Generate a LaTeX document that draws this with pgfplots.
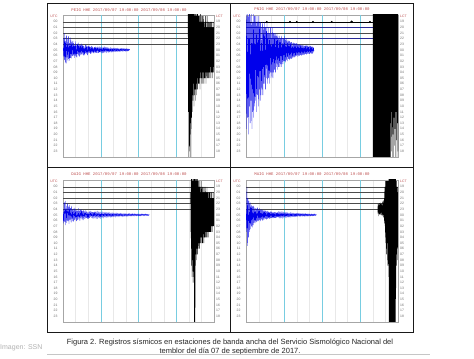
\documentclass[border=0pt]{standalone}
\usepackage{pgfplots}
\pgfplotsset{compat=1.18}
\usepackage{fontspec}
\setmainfont{Liberation Sans}
\newfontfamily\monof{Liberation Mono}
\definecolor{ttl}{RGB}{190,80,80}
\definecolor{cy}{RGB}{120,205,225}
\definecolor{lab}{RGB}{110,110,110}
\definecolor{trb}{RGB}{0,0,235}
\definecolor{nav}{RGB}{40,40,150}
\pgfplotsset{
  heli/.style={
    scale only axis, width=151pt, height=142pt,
    xmin=0, xmax=60, ymin=-0.2, ymax=25, y dir=reverse,
    axis line style={gray!70, line width=0.4pt},
    xtick={5,10,20,25,35,40,50,55}, xticklabels={}, xmajorgrids,
    major grid style={gray!18, line width=0.3pt},
    extra x ticks={15,30,45}, extra x tick labels={},
    extra x tick style={grid=major, major grid style={cy, line width=0.5pt}},
    major tick length=0pt,
    ytick={0.1,1,2,3,4,5,6,7,8,9,10,11,12,13,14,15,16,17,18,19,20,21,22,23,24},
    yticklabels={\textcolor{ttl}{UTC},00,01,02,03,04,05,06,07,08,09,10,11,12,13,14,15,16,17,18,19,20,21,22,23},
    yticklabel style={font=\fontsize{3.4}{4}\selectfont, text=lab, xshift=-2pt},
    clip=true,
  },
  rowl/.style={gray!60!black, line width=0.35pt},
  bt/.style={trb, line width=0.3pt},
  kt/.style={black, line width=0.3pt},
}
\newcommand\rightlabels[2]{%
  \node[anchor=west, font=\fontsize{3.4}{4}\selectfont, text=ttl, inner sep=0pt] at (#1+2, {#2-0.3*5.635}) {LCT};
  \foreach \r/\t in {1/19,2/20,3/21,4/22,5/23,6/00,7/01,8/02,9/03,10/04,11/05,12/06,13/07,14/08,15/09,16/10,17/11,18/12,19/13,20/14,21/15,22/16,23/17,24/18}
    \node[anchor=west, font=\fontsize{3.4}{4}\selectfont, text=lab, inner sep=0pt] at (#1+2, {#2-(\r+0.2)*5.635}) {\t};
}
\begin{document}
\begin{tikzpicture}
\begin{scope}[x=1pt,y=1pt]
\useasboundingbox (0,0) rectangle (474,355);
\fill[white] (0,0) rectangle (474,355);
\draw[line width=0.8pt, gray!20!black] (47,352) rectangle (413,23);
\draw[line width=0.8pt, gray!20!black] (230,352) -- (230,23);
\draw[line width=0.8pt, gray!20!black] (47,188) -- (413,188);
\end{scope}

% ---------------- PEIG (top left)
\begin{axis}[heli, at={(63pt,198pt)}, anchor=south west]
\addplot[rowl] coordinates {(0,1) (60,1)};
\addplot[rowl] coordinates {(0,2) (60,2)};
\addplot[rowl] coordinates {(0,3) (60,3)};
\addplot[rowl] coordinates {(0,4) (60,4)};
\addplot[rowl] coordinates {(0,5) (49.7,5)};
\addplot[bt] table[row sep=\\, x expr={\coordindex*0.178}, y expr={6+\thisrow{v}}] {v\\
-0.4\\ 1.2\\ -2.1\\ 1.8\\ -3.0\\ 2.2\\ -1.5\\ 2.4\\ -2.6\\ 1.3\\ -1.9\\ 2.0\\ -2.4\\ 1.6\\ -1.2\\ 1.9\\ -2.2\\ 1.4\\ -1.7\\ 1.5\\
-1.3\\ 1.1\\ -1.6\\ 0.9\\ -1.2\\ 1.4\\ -0.8\\ 1.0\\ -1.5\\ 1.2\\ -0.9\\ 1.3\\ -1.1\\ 0.7\\ -1.3\\ 1.0\\ -0.8\\ 1.2\\ -1.0\\ 0.9\\
-0.9\\ 0.8\\ -1.1\\ 0.6\\ -0.8\\ 0.9\\ -0.7\\ 1.0\\ -0.6\\ 0.8\\ -0.9\\ 0.5\\ -0.8\\ 0.7\\ -0.6\\ 0.9\\ -0.7\\ 0.6\\ -0.8\\ 0.5\\
-0.6\\ 0.7\\ -0.5\\ 0.6\\ -0.7\\ 0.4\\ -0.6\\ 0.5\\ -0.4\\ 0.6\\ -0.5\\ 0.4\\ -0.6\\ 0.5\\ -0.4\\ 0.5\\ -0.5\\ 0.3\\ -0.4\\ 0.5\\
-0.4\\ 0.45\\ -0.35\\ 0.4\\ -0.45\\ 0.3\\ -0.4\\ 0.35\\ -0.3\\ 0.4\\ -0.35\\ 0.3\\ -0.4\\ 0.3\\ -0.35\\ 0.25\\ -0.3\\ 0.35\\ -0.3\\ 0.25\\
-0.3\\ 0.3\\ -0.25\\ 0.3\\ -0.2\\ 0.25\\ -0.3\\ 0.2\\ -0.25\\ 0.3\\ -0.2\\ 0.25\\ -0.2\\ 0.25\\ -0.25\\ 0.2\\ -0.2\\ 0.25\\ -0.2\\ 0.2\\
-0.2\\ 0.2\\ -0.25\\ 0.15\\ -0.2\\ 0.2\\ -0.15\\ 0.2\\ -0.2\\ 0.15\\ -0.2\\ 0.15\\ -0.2\\ 0.2\\ -0.15\\ 0.15\\ -0.2\\ 0.15\\ -0.15\\ 0.2\\
-0.15\\ 0.15\\ -0.2\\ 0.15\\ -0.15\\ 0.15\\ -0.15\\ 0.1\\ -0.1\\ 0\\
};
\addplot[kt] table[row sep=\\, x expr={49.7+\coordindex*0.086}, y expr={5+\thisrow{v}}] {v\\
-8\\ 12\\ -10\\ 20\\ -9\\ 18\\ -12\\ 19\\ -8\\ 16\\ -10\\ 14\\ -9\\ 20\\ -7\\ 15\\ -11\\ 13\\ -8\\ 12\\
-7\\ 9\\ -6\\ 10\\ -7\\ 7\\ -8\\ 11\\ -6\\ 8\\ -7\\ 9\\ -5\\ 10\\ -6\\ 8\\ -7\\ 7\\ -6\\ 9\\ -5\\ 8\\ -6\\ 6\\ -6\\ 8\\ -5\\ 7\\ -5\\ 7\\
-5\\ 7\\ -4\\ 6\\ -5\\ 8\\ -4\\ 6\\ -6\\ 5\\ -5\\ 7\\ -4\\ 6\\ -5\\ 5\\ -4\\ 7\\ -5\\ 6\\ -4\\ 5\\ -5\\ 7\\ -4\\ 6\\ -3\\ 6\\ -4\\ 5\\
-5\\ 6\\ -4\\ 7\\ -3\\ 5\\ -4\\ 6\\ -5\\ 5\\ -3\\ 6\\ -4\\ 5\\ -4\\ 6\\ -3\\ 5\\ -4\\ 6\\ -3\\ 5\\ -4\\ 4\\ -3\\ 6\\ -4\\ 5\\ -3\\ 5\\
-4\\ 6\\ -3\\ 5\\ -3\\ 5\\ -4\\ 4\\ -3\\ 5\\
};
\end{axis}

% ---------------- PNIG (top right)
\begin{axis}[heli, width=152pt, at={(246pt,198pt)}, anchor=south west]
\addplot[black, line width=0.45pt] coordinates {(0,1) (60,1)};
\addplot[nav, line width=0.35pt] coordinates {(0,2) (60,2)};
\addplot[rowl] coordinates {(0,3) (60,3)};
\addplot[nav, line width=0.35pt] coordinates {(0,4) (60,4)};
\addplot[rowl] coordinates {(0,5) (50.1,5)};
\addplot[only marks, mark=*, mark size=0.6pt, black] coordinates {(8.2,1) (17.4,1) (20,1) (26.4,1) (33.8,1) (48.9,1)};
\addplot[only marks, mark=*, mark size=1pt, black] coordinates {(41.7,1)};
\addplot[bt] table[row sep=\\, x expr={\coordindex*0.18}, y expr={6+\thisrow{v}}] {v\\
-7\\ 14\\ -6\\ 12\\ -7\\ 15\\ -6\\ 10\\ -7\\ 13\\ -6\\ 9\\ -7\\ 14\\ -5\\ 11\\ -7\\ 12\\ -6\\ 10\\
-6\\ 9\\ -5\\ 11\\ -6\\ 8\\ -5\\ 10\\ -6\\ 7\\ -5\\ 9\\ -5\\ 8\\ -4\\ 7\\ -5\\ 8\\ -4\\ 6\\
-5\\ 6\\ -4\\ 7\\ -4\\ 5\\ -5\\ 6\\ -3\\ 5\\ -4\\ 6\\ -3\\ 4\\ -4\\ 5\\ -3\\ 4\\ -4\\ 5\\
-3\\ 4\\ -3\\ 3.5\\ -3\\ 4\\ -2.5\\ 3\\ -3\\ 3.5\\ -2.5\\ 3\\ -2\\ 3\\ -2.5\\ 2.5\\ -2\\ 3\\ -2.5\\ 2.5\\
-2\\ 2.5\\ -2\\ 2\\ -2.5\\ 2\\ -1.8\\ 2.2\\ -2\\ 1.8\\ -1.6\\ 2\\ -1.8\\ 1.6\\ -1.5\\ 1.8\\ -1.6\\ 1.5\\ -1.4\\ 1.6\\
-1.4\\ 1.5\\ -1.2\\ 1.4\\ -1.3\\ 1.2\\ -1.2\\ 1.3\\ -1.1\\ 1.2\\ -1.2\\ 1.0\\ -1.1\\ 1.2\\ -1.0\\ 1.1\\ -0.9\\ 1.0\\ -1.0\\ 0.9\\
-0.9\\ 1.0\\ -0.8\\ 0.9\\ -0.9\\ 0.8\\ -0.8\\ 0.9\\ -0.7\\ 0.8\\ -0.8\\ 0.7\\ -0.8\\ 0.8\\ -0.7\\ 0.7\\ -0.8\\ 0.7\\ -0.6\\ 0.7\\
-0.7\\ 0.6\\ -0.7\\ 0.6\\ -0.6\\ 0.7\\ -0.6\\ 0.5\\ -0.5\\ 0.2\\
};
\addplot[kt] table[row sep=\\, x expr={50.1+\coordindex*0.1}, y expr={5+\thisrow{v}}] {v\\
-30\\ 30\\ -30\\ 30\\ -30\\ 30\\ -30\\ 30\\ -30\\ 30\\ -30\\ 30\\ -30\\ 30\\ -30\\ 30\\ -30\\ 30\\ -30\\ 30\\
-30\\ 30\\ -30\\ 30\\ -30\\ 30\\ -30\\ 30\\ -30\\ 30\\ -30\\ 30\\ -30\\ 30\\ -30\\ 30\\ -30\\ 30\\ -30\\ 30\\
-30\\ 30\\ -30\\ 30\\ -30\\ 30\\ -30\\ 30\\ -30\\ 30\\ -30\\ 30\\ -30\\ 30\\ -30\\ 30\\ -30\\ 30\\ -30\\ 30\\
-30\\ 30\\ -30\\ 30\\ -30\\ 30\\ -30\\ 30\\ -30\\ 30\\
-30\\ 14\\ -30\\ 19\\ -30\\ 12\\ -30\\ 20\\ -30\\ 16\\ -30\\ 22\\ -30\\ 13\\ -30\\ 18\\ -30\\ 15\\ -30\\ 21\\
-30\\ 12\\ -30\\ 17\\ -30\\ 20\\ -30\\ 14\\ -30\\ 19\\
};
\end{axis}

% ---------------- DAIG (bottom left)
\begin{axis}[heli, at={(63pt,33pt)}, anchor=south west]
\addplot[rowl] coordinates {(0,1) (60,1)};
\addplot[rowl] coordinates {(0,2) (60,2)};
\addplot[rowl] coordinates {(0,3) (60,3)};
\addplot[rowl] coordinates {(0,4) (60,4)};
\addplot[rowl] coordinates {(0,5) (50.7,5)};
\addplot[bt] table[row sep=\\, x expr={\coordindex*0.216}, y expr={6+\thisrow{v}}] {v\\
-0.5\\ 1.5\\ -2.2\\ 1.2\\ -2.5\\ 1.8\\ -1.6\\ 1.4\\ -2.0\\ 1.0\\ -1.5\\ 1.6\\ -1.8\\ 0.9\\ -1.2\\ 1.3\\ -1.6\\ 1.1\\ -1.0\\ 1.2\\
-1.1\\ 0.9\\ -1.3\\ 0.8\\ -1.0\\ 1.1\\ -0.7\\ 0.9\\ -1.2\\ 0.8\\ -0.8\\ 1.0\\ -0.9\\ 0.6\\ -1.0\\ 0.8\\ -0.7\\ 0.9\\ -0.8\\ 0.7\\
-0.7\\ 0.6\\ -0.8\\ 0.5\\ -0.6\\ 0.7\\ -0.5\\ 0.7\\ -0.6\\ 0.5\\ -0.7\\ 0.4\\ -0.6\\ 0.5\\ -0.5\\ 0.6\\ -0.5\\ 0.4\\ -0.6\\ 0.4\\
-0.45\\ 0.5\\ -0.4\\ 0.45\\ -0.5\\ 0.35\\ -0.45\\ 0.4\\ -0.35\\ 0.45\\ -0.4\\ 0.3\\ -0.45\\ 0.35\\ -0.3\\ 0.4\\ -0.35\\ 0.3\\ -0.35\\ 0.35\\
-0.3\\ 0.35\\ -0.3\\ 0.3\\ -0.35\\ 0.25\\ -0.3\\ 0.3\\ -0.25\\ 0.3\\ -0.3\\ 0.25\\ -0.3\\ 0.25\\ -0.25\\ 0.2\\ -0.25\\ 0.3\\ -0.25\\ 0.2\\
-0.25\\ 0.25\\ -0.2\\ 0.25\\ -0.2\\ 0.2\\ -0.25\\ 0.2\\ -0.2\\ 0.25\\ -0.15\\ 0.2\\ -0.2\\ 0.2\\ -0.2\\ 0.15\\ -0.2\\ 0.2\\ -0.15\\ 0.2\\
-0.2\\ 0.15\\ -0.2\\ 0.15\\ -0.15\\ 0.2\\ -0.15\\ 0.15\\ -0.2\\ 0.15\\ -0.15\\ 0.15\\ -0.2\\ 0.1\\ -0.15\\ 0.15\\ -0.15\\ 0.1\\ -0.15\\ 0.15\\
-0.15\\ 0.15\\ -0.1\\ 0.15\\ -0.15\\ 0.1\\ -0.15\\ 0.1\\ -0.1\\ 0.15\\ -0.1\\ 0.1\\ -0.15\\ 0.1\\ -0.1\\ 0.1\\ -0.1\\ 0.1\\ -0.05\\ 0\\
};
\addplot[kt] table[row sep=\\, x expr={50.7+\coordindex*0.0775}, y expr={5+\thisrow{v}}] {v\\
-3\\ 4\\ -5\\ 7\\ -6\\ 10\\ -7\\ 12\\ -5\\ 9\\ -6\\ 11\\ -5\\ 13\\ -6\\ 10\\ -5\\ 12\\ -6\\ 20\\ -5\\ 21\\ -6\\ 20\\
-6\\ 10\\ -5\\ 8\\ -6\\ 9\\ -5\\ 7\\ -6\\ 8\\ -5\\ 7\\ -6\\ 8\\ -5\\ 6\\ -4\\ 7\\ -5\\ 6\\ -4\\ 7\\ -5\\ 6\\
-4\\ 6\\ -3\\ 6\\ -4\\ 5\\ -5\\ 5\\ -3\\ 6\\ -4\\ 6\\ -3\\ 5\\ -4\\ 6\\ -3\\ 4\\ -4\\ 5\\ -3\\ 6\\ -4\\ 5\\
-3\\ 5\\ -3\\ 5\\ -4\\ 4\\ -3\\ 5\\ -3\\ 5\\ -3\\ 4\\ -4\\ 4\\ -3\\ 5\\ -3\\ 4\\ -3\\ 4\\ -3\\ 5\\ -2\\ 4\\
-3\\ 4\\ -3\\ 4\\ -2\\ 4\\ -3\\ 4\\ -2\\ 3\\ -3\\ 4\\ -2\\ 3\\ -3\\ 4\\ -2\\ 3\\ -2\\ 3\\ -3\\ 3\\ -2\\ 3\\
};
\end{axis}

% ---------------- MAIG (bottom right)
\begin{axis}[heli, width=152pt, at={(246pt,33pt)}, anchor=south west]
\addplot[rowl] coordinates {(0,1) (60,1)};
\addplot[rowl] coordinates {(0,2) (60,2)};
\addplot[rowl] coordinates {(0,3) (60,3)};
\addplot[rowl] coordinates {(0,4) (60,4)};
\addplot[rowl] coordinates {(0,5) (52,5)};
\addplot[bt] table[row sep=\\, x expr={\coordindex*0.187}, y expr={6+\thisrow{v}}] {v\\
-1\\ 3\\ -5\\ 5.5\\ -3\\ 4\\ -2.5\\ 3\\ -2\\ 2.5\\ -2.2\\ 2\\ -1.8\\ 2.2\\ -1.5\\ 1.8\\ -1.6\\ 1.4\\ -1.3\\ 1.5\\
-1.2\\ 1.3\\ -1.1\\ 1.2\\ -1.3\\ 1.0\\ -1.0\\ 1.1\\ -1.2\\ 0.9\\ -0.9\\ 1.1\\ -1.0\\ 0.8\\ -0.9\\ 1.0\\ -0.8\\ 0.9\\ -0.8\\ 0.8\\
-0.8\\ 0.7\\ -0.7\\ 0.8\\ -0.6\\ 0.7\\ -0.7\\ 0.6\\ -0.6\\ 0.7\\ -0.5\\ 0.6\\ -0.6\\ 0.5\\ -0.6\\ 0.5\\ -0.5\\ 0.6\\ -0.5\\ 0.5\\
-0.5\\ 0.5\\ -0.45\\ 0.5\\ -0.4\\ 0.45\\ -0.5\\ 0.4\\ -0.4\\ 0.45\\ -0.4\\ 0.4\\ -0.35\\ 0.4\\ -0.4\\ 0.35\\ -0.35\\ 0.4\\ -0.35\\ 0.35\\
-0.35\\ 0.3\\ -0.3\\ 0.35\\ -0.3\\ 0.3\\ -0.3\\ 0.25\\ -0.3\\ 0.3\\ -0.25\\ 0.3\\ -0.25\\ 0.25\\ -0.3\\ 0.25\\ -0.25\\ 0.2\\ -0.25\\ 0.25\\
-0.25\\ 0.2\\ -0.2\\ 0.25\\ -0.2\\ 0.2\\ -0.2\\ 0.2\\ -0.25\\ 0.2\\ -0.2\\ 0.15\\ -0.2\\ 0.2\\ -0.15\\ 0.2\\ -0.2\\ 0.15\\ -0.15\\ 0.2\\
-0.2\\ 0.15\\ -0.15\\ 0.2\\ -0.15\\ 0.15\\ -0.2\\ 0.15\\ -0.15\\ 0.15\\ -0.15\\ 0.2\\ -0.15\\ 0.1\\ -0.15\\ 0.15\\ -0.1\\ 0.15\\ -0.15\\ 0.1\\
-0.1\\ 0.15\\ -0.1\\ 0.1\\ -0.15\\ 0.1\\ -0.1\\ 0.1\\ -0.05\\ 0\\
};
\addplot[kt] table[row sep=\\, x expr={52+\coordindex*0.08}, y expr={5+\thisrow{v}}] {v\\
-0.5\\ 0.8\\ -1.0\\ 0.6\\ -0.9\\ 1.2\\ -0.7\\ 0.9\\ -1.1\\ 0.8\\ -0.6\\ 1.0\\ -0.9\\ 0.7\\ -1.2\\ 0.9\\ -0.8\\ 1.1\\ -1.0\\ 0.6\\
-0.8\\ 1.0\\ -1.3\\ 0.9\\ -0.7\\ 1.2\\ -1.5\\ 1.0\\ -1.2\\ 1.4\\ -1.6\\ 1.5\\ -2\\ 2.5\\ -3\\
-4\\ 3\\ -5\\ 6\\ -4\\ 5\\ -5\\ 7\\ -5\\ 8\\ -5\\ 6\\ -5\\ 9\\ -5\\ 10\\ -5\\ 8\\ -5\\ 12\\
-6\\ 20\\ -6\\ 21\\ -6\\ 20\\ -6\\ 21\\ -6\\ 20\\ -6\\ 21\\ -6\\ 20\\ -6\\ 21\\ -6\\ 20\\ -6\\ 21\\
-6\\ 20\\ -6\\ 21\\ -6\\ 20\\ -6\\ 21\\ -6\\ 20\\ -6\\ 21\\ -6\\ 20\\ -6\\
14\\ -5\\ 10\\ -5\\ 8\\ -4\\ 9\\ -4\\ 7\\ -3\\
};
\end{axis}

\begin{scope}[x=1pt,y=1pt]
\rightlabels{214}{340}
\rightlabels{398}{340}
\rightlabels{214}{175}
\rightlabels{398}{175}
\node[font=\monof\fontsize{4}{5}\selectfont, text=ttl] at (129,345) {PEIG HHE 2017/09/07 19:00:00 2017/09/08 19:00:00};
\node[font=\monof\fontsize{4}{5}\selectfont, text=ttl] at (312,345.5) {PNIG HHE 2017/09/07 19:00:00 2017/09/08 19:00:00};
\node[font=\monof\fontsize{4}{5}\selectfont, text=ttl] at (129,181) {DAIG HHE 2017/09/07 19:00:00 2017/09/08 19:00:00};
\node[font=\monof\fontsize{4}{5}\selectfont, text=ttl] at (312,181) {MAIG HHE 2017/09/07 19:00:00 2017/09/08 19:00:00};
\node[font=\fontsize{7.5}{9}\selectfont, text=black!85] at (230,12.5) {Figura 2. Registros sísmicos en estaciones de banda ancha del Servicio Sismológico Nacional del};
\node[font=\fontsize{7.5}{9}\selectfont, text=black!85] at (230,3.5) {temblor del día 07 de septiembre de 2017.};
\node[anchor=west, font=\fontsize{7}{8}\selectfont, text=gray!60, inner sep=0pt] at (0,7) {Imagen: SSN};
\draw[gray!45, line width=0.5pt] (47,1) -- (430,1);
\end{scope}
\end{tikzpicture}
\end{document}
